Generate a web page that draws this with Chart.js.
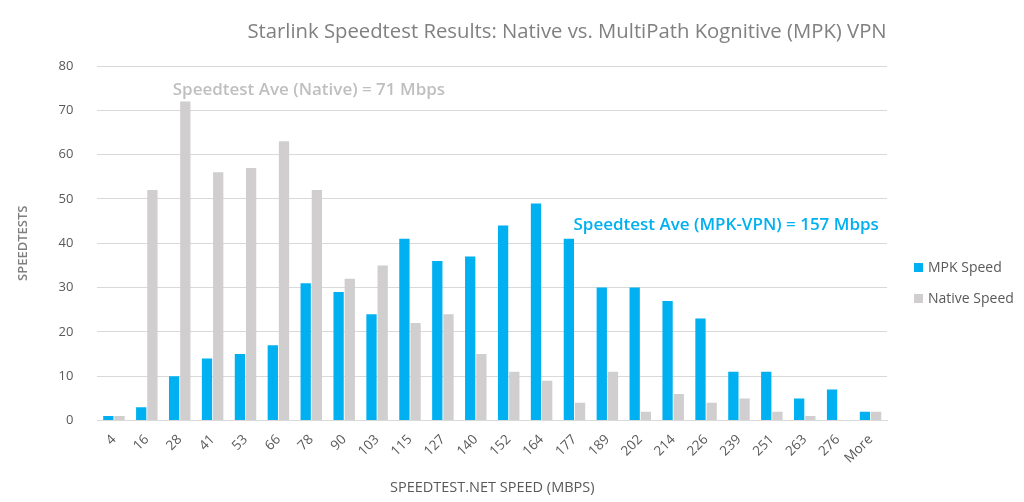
<!DOCTYPE html>
<html>
<head>
<meta charset="utf-8">
<script src="https://cdn.jsdelivr.net/npm/chart.js@4"></script>
<style>
  body { margin: 0; background: #fff; font-family: 'Open Sans', sans-serif; }
  #wrap { position: relative; width: 1024px; height: 502px; }
  .legend { position: absolute; left: 914px; color: #595959; font-size: 14px; line-height: 18px; }
  .legend span { display: inline-block; width: 9px; height: 9px; margin-right: 5px; }
</style>
</head>
<body>
<div id="wrap">
  <canvas id="speedChart" width="1024" height="502"></canvas>
  <div class="legend" style="top:258px"><span style="background:#00B0F0"></span>MPK Speed</div>
  <div class="legend" style="top:289px"><span style="background:#D0CECE"></span>Native Speed</div>
</div>
<script>
// Speedtest histogram bins (Mbps) and counts per bin
const speedBins = ['4', '16', '28', '41', '53', '66', '78', '90', '103', '115', '127', '140',
  '152', '164', '177', '189', '202', '214', '226', '239', '251', '263', '276', 'More'];
const mpkCounts = [1, 3, 10, 14, 15, 17, 31, 29, 24, 41, 36, 37, 44, 49, 41, 30, 30, 27, 23, 11, 11, 5, 7, 2];
const nativeCounts = [1, 52, 72, 56, 57, 63, 52, 32, 35, 22, 24, 15, 11, 9, 4, 11, 2, 6, 4, 5, 2, 1, 0, 2];
const yTicks = [0, 10, 20, 30, 40, 50, 60, 70, 80];

const FONT = "'Open Sans', sans-serif";
const TITLE = 'Starlink Speedtest Results: Native vs. MultiPath Kognitive (MPK) VPN';

// title + average labels, drawn on the canvas
const textPlugin = {
  id: 'chartText',
  afterDatasetsDraw(chart) {
    const { ctx, scales } = chart;
    ctx.save();
    ctx.textBaseline = 'middle';

    ctx.font = '20.3px ' + FONT;
    ctx.fillStyle = '#808080';
    ctx.textAlign = 'center';
    ctx.fillText(TITLE, 567, 32);

    const notes = [
      { text: 'Speedtest Ave (Native) = 71 Mbps', idx: 2, val: 74.6, dx: -7, color: '#BFBFBF' },
      { text: 'Speedtest Ave (MPK-VPN) = 157 Mbps', idx: 14, val: 44, dx: -1, color: '#00B0F0' }
    ];
    ctx.font = '600 17px ' + FONT;
    ctx.textAlign = 'left';
    notes.forEach(n => {
      ctx.fillStyle = n.color;
      ctx.fillText(n.text, scales.x.getPixelForValue(n.idx) + n.dx, scales.y.getPixelForValue(n.val));
    });
    ctx.restore();
  }
};

new Chart(document.getElementById('speedChart').getContext('2d'), {
  type: 'bar',
  data: {
    labels: speedBins,
    datasets: [
      {
        label: 'MPK Speed',
        data: mpkCounts,
        backgroundColor: '#00B0F0',
        categoryPercentage: 0.68,
        barPercentage: 0.92
      },
      {
        label: 'Native Speed',
        data: nativeCounts,
        backgroundColor: '#D0CECE',
        categoryPercentage: 0.68,
        barPercentage: 0.92
      }
    ]
  },
  options: {
    responsive: false,
    animation: false,
    layout: { padding: { left: 11, right: 137, top: 66, bottom: 1 } },
    plugins: {
      legend: { display: false },
      tooltip: { enabled: false }
    },
    scales: {
      x: {
        grid: { display: false },
        border: { color: '#D9D9D9', width: 1 },
        ticks: {
          color: '#595959',
          font: { family: FONT, size: 13.5 },
          maxRotation: 45,
          minRotation: 45
        },
        title: {
          display: true,
          text: 'SPEEDTEST.NET SPEED (MBPS)',
          color: '#595959',
          font: { family: FONT, size: 14.5 },
          padding: { top: 10 }
        }
      },
      y: {
        min: 0,
        max: 80,
        afterBuildTicks(axis) { axis.ticks = yTicks.map(v => ({ value: v })); },
        grid: { color: '#D9D9D9', drawTicks: false },
        border: { display: false },
        ticks: {
          color: '#595959',
          font: { family: FONT, size: 13 },
          padding: 24
        },
        title: {
          display: true,
          text: 'SPEEDTESTS',
          color: '#7F7F7F',
          font: { family: FONT, size: 13, weight: '600' },
          padding: { bottom: 4 }
        }
      }
    }
  },
  plugins: [textPlugin]
});
</script>
</body>
</html>
